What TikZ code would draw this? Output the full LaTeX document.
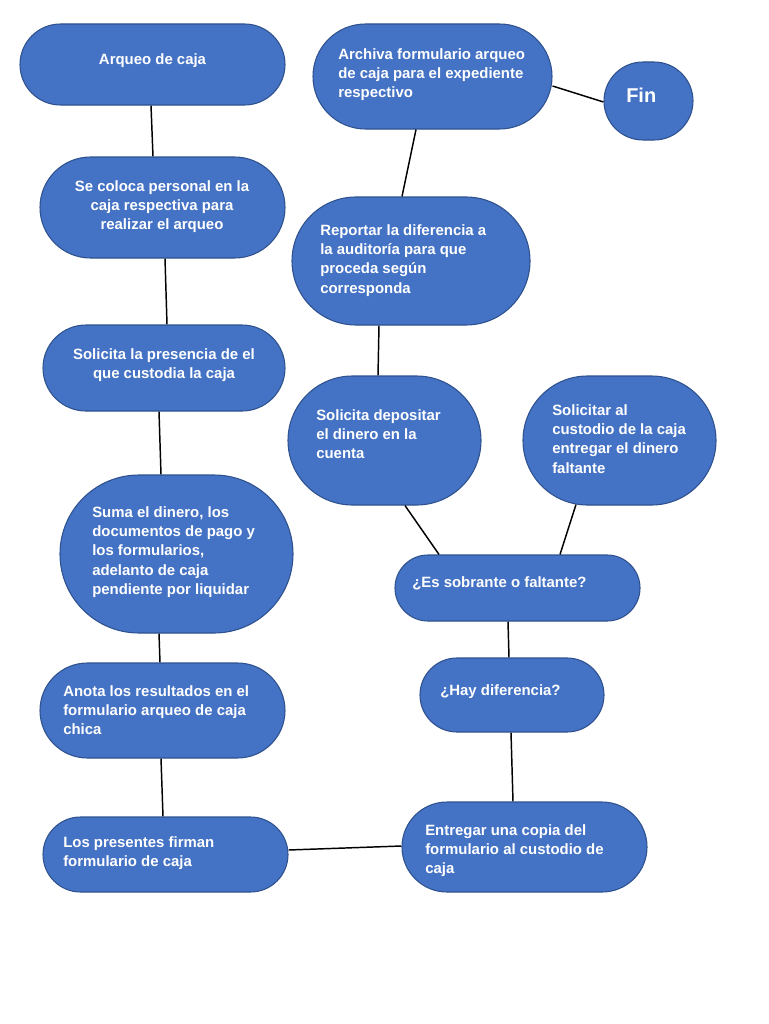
\documentclass[tikz,border=0pt]{standalone}
\usepackage{fontspec}
\setmainfont{Liberation Sans}
\definecolor{boxfill}{HTML}{4472C4}
\definecolor{boxline}{HTML}{2F528F}
\newcommand\pbox[5]{%
  \node[boxst, minimum width={(#4-#2)*0.75pt}, minimum height={(#5-#3)*0.75pt},
        rounded corners={(#5-#3)*0.375pt}] (#1) at ({(#2+#4)/2},{(#3+#5)/2}) {};}
\newcommand\ltext[4]{%
  \node[txt, anchor=north west, align=left, yshift=8.5pt] (#1) at (#2,#3) {\rule{0pt}{8.5pt}#4};}
\newcommand\ctext[4]{%
  \node[txt, anchor=north, align=center, yshift=8.5pt] (#1) at (#2,#3) {\rule{0pt}{8.5pt}#4};}
\begin{document}
\begin{tikzpicture}[x=0.75pt,y=-0.75pt,
  boxst/.style={draw=boxline, line width=0.8pt, fill=boxfill, inner sep=0pt},
  txt/.style={text=white, inner sep=0pt, font=\bfseries\fontsize{11.2}{14.5}\selectfont},
  conn/.style={draw=black, line width=1.1pt}]
\fill[white] (0,0) rectangle (768,1024);
\useasboundingbox (0,0) rectangle (768,1024);
% boxes
\pbox{n1}{20}{24}{285}{105}
\pbox{n2}{40}{157}{285}{258}
\pbox{n3}{43}{325}{285}{411}
\pbox{n4}{60}{475}{293}{633}
\pbox{n5}{40}{663}{285}{758}
\pbox{n6}{43}{817}{288}{892}
\pbox{n7}{402}{802}{647}{892}
\pbox{n8}{420}{658}{604}{732}
\pbox{n9}{395}{555}{640}{621}
\pbox{n10}{288}{376}{481}{505}
\pbox{n11}{523}{376}{716}{505}
\pbox{n12}{292}{197}{530}{325}
\pbox{n13}{313}{24}{552}{129}
\pbox{n14}{604}{62}{693}{140}
% connectors
\draw[conn] ([xshift=-1.125pt]n1.south) -- ([xshift=-7.125pt]n2.north);
\draw[conn] ([xshift=1.875pt]n2.south) -- ([xshift=2.25pt]n3.north);
\draw[conn] ([xshift=-3.75pt]n3.south) -- ([xshift=-11.625pt]n4.north);
\draw[conn] ([xshift=-13.125pt]n4.south) -- ([xshift=-1.875pt]n5.north);
\draw[conn] ([xshift=-1.125pt]n5.south) -- ([xshift=-1.875pt]n6.north);
\draw[conn] ([yshift=3.375pt]n6.east) -- ([yshift=0.75pt]n7.west);
\draw[conn] ([xshift=-8.625pt]n7.north) -- ([xshift=-0.75pt]n8.south);
\draw[conn] ([xshift=-2.25pt]n8.north) -- ([xshift=-7.125pt]n9.south);
\draw[conn] ([xshift=-58.875pt]n9.north) -- ([xshift=15.375pt]n10.south);
\draw[conn] ([xshift=31.875pt]n9.north) -- ([xshift=-32.625pt,yshift=0.75pt]n11.south);
\draw[conn] ([xshift=-4.875pt]n10.north) -- ([xshift=-24pt]n12.south);
\draw[conn] ([xshift=-6.75pt]n12.north) -- ([xshift=-12.375pt]n13.south);
\draw[conn] ([yshift=-7.125pt]n13.east) -- ([yshift=-0.75pt]n14.west);
% texts
\ctext{t1}{152.5}{64}{Arqueo de caja}
\ctext{t2}{162}{191}{Se coloca personal en la\\caja respectiva para\\realizar el arqueo}
\ctext{t3}{164}{359}{Solicita la presencia de el\\que custodia la caja}
\ltext{t4}{92}{517}{Suma el dinero, los\\documentos de pago y\\los formularios,\\adelanto de caja\\pendiente por liquidar}
\ltext{t5}{63}{696}{Anota los resultados en el\\formulario arqueo de caja\\chica}
\ltext{t6}{63}{847}{Los presentes firman\\formulario de caja}
\ltext{t7}{425}{835}{Entregar una copia del\\formulario al custodio de\\caja}
\ltext{t8}{440}{695}{¿Hay diferencia?}
\ltext{t9}{412}{587}{¿Es sobrante o faltante?}
\ltext{t10}{316}{420}{Solicita depositar\\el dinero en la\\cuenta}
\ltext{t11}{552}{415}{Solicitar al\\custodio de la caja\\entregar el dinero\\faltante}
\ltext{t12}{320}{235}{Reportar la diferencia a\\la auditoría para que\\proceda según\\corresponda}
\ltext{t13}{338}{59}{Archiva formulario arqueo\\de caja para el expediente\\respectivo}
\node[txt, anchor=base west, font=\bfseries\fontsize{15}{18}\selectfont] (t14) at (626,102.5) {Fin};
\end{tikzpicture}
\end{document}
